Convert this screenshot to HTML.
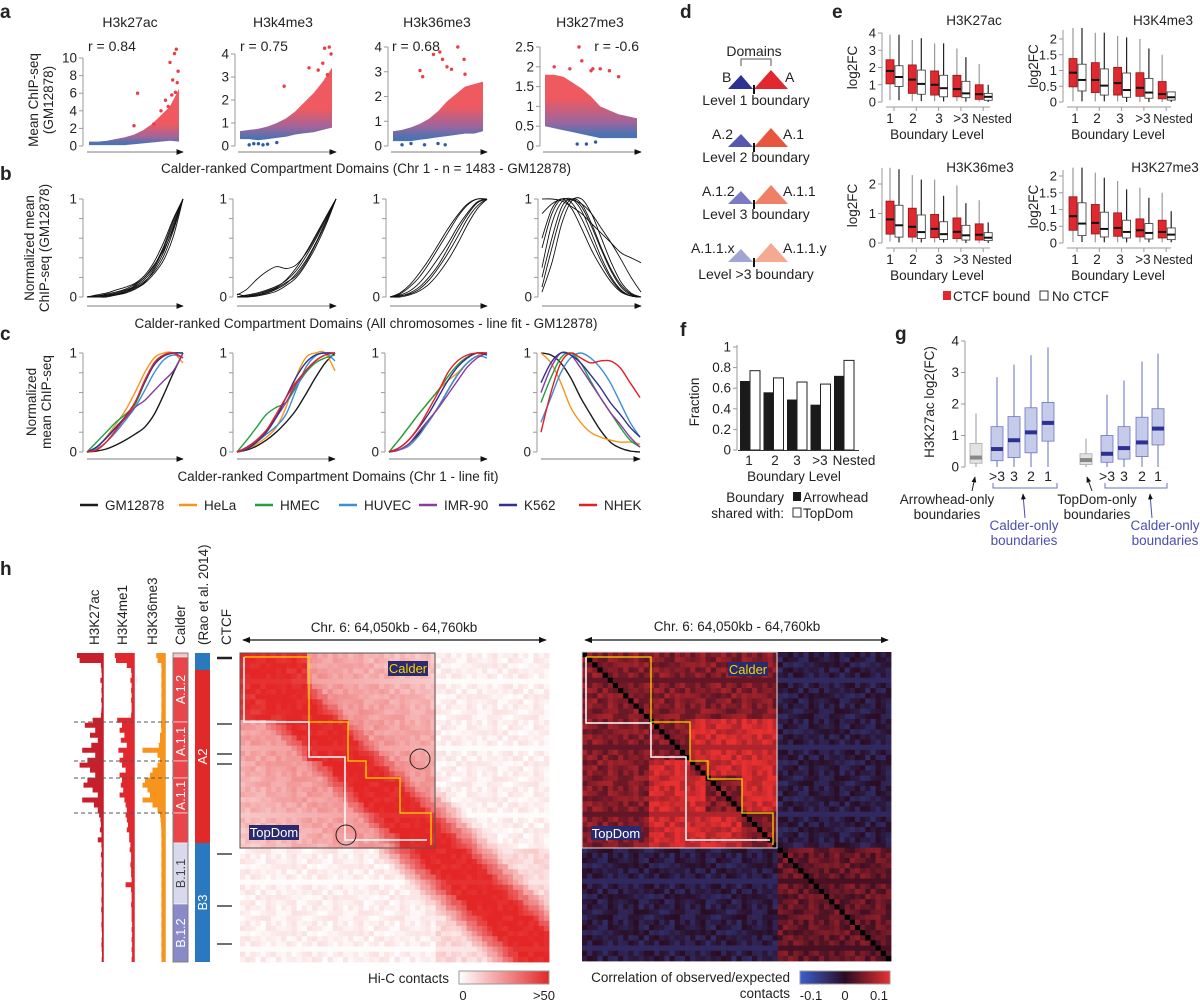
<!DOCTYPE html>
<html><head><meta charset="utf-8"><style>
html,body{margin:0;padding:0;background:#fff;}
svg{display:block;font-family:"Liberation Sans",Arial,sans-serif;}
</style></head><body>
<svg id="fig" width="1200" height="1002" viewBox="0 0 1200 1002" xmlns="http://www.w3.org/2000/svg">
<defs>
<linearGradient id="hicBar" x1="0" x2="1" y1="0" y2="0"><stop offset="0" stop-color="#ffffff"/><stop offset="1" stop-color="#e32828"/></linearGradient>
<linearGradient id="corBar" x1="0" x2="1" y1="0" y2="0"><stop offset="0" stop-color="#3b5fcf"/><stop offset="0.5" stop-color="#2a0c22"/><stop offset="1" stop-color="#e83030"/></linearGradient>
<marker id="arrEnd" viewBox="0 0 10 10" refX="9" refY="5" markerWidth="6" markerHeight="6" orient="auto"><path d="M0,1 L10,5 L0,9 z" fill="#111"/></marker>
<marker id="arrStart" viewBox="0 0 10 10" refX="1" refY="5" markerWidth="6" markerHeight="6" orient="auto"><path d="M10,1 L0,5 L10,9 z" fill="#111"/></marker>
</defs>
<g font-size="13" fill="#222">
<text x="0" y="18" font-size="19" font-weight="bold">a</text>
<text x="0" y="180" font-size="19" font-weight="bold">b</text>
<text x="0" y="340" font-size="19" font-weight="bold">c</text>
<text x="680" y="18" font-size="19" font-weight="bold">d</text>
<text x="832" y="18" font-size="19" font-weight="bold">e</text>
<text x="680" y="336" font-size="19" font-weight="bold">f</text>
<text x="895" y="340" font-size="19" font-weight="bold">g</text>
<text x="0" y="575" font-size="19" font-weight="bold">h</text>

<text x="130" y="27" font-size="14" text-anchor="middle">H3k27ac</text>
<text x="283" y="27" font-size="14" text-anchor="middle">H3k4me3</text>
<text x="437" y="27" font-size="14" text-anchor="middle">H3k36me3</text>
<text x="590" y="27" font-size="14" text-anchor="middle">H3k27me3</text>
<text x="88" y="51" font-size="14">r = 0.84</text>
<text x="240" y="51" font-size="14">r = 0.75</text>
<text x="392" y="51" font-size="14">r = 0.68</text>
<text x="639" y="51" font-size="14" text-anchor="end">r = -0.6</text>
<text transform="translate(38,100) rotate(-90)" text-anchor="middle" font-size="13.5">Mean ChIP-seq</text>
<text transform="translate(53,100) rotate(-90)" text-anchor="middle" font-size="13.5">(GM12878)</text>
<text x="366" y="173" font-size="13.5" text-anchor="middle">Calder-ranked Compartment Domains (Chr 1 - n = 1483 - GM12878)</text>
<text transform="translate(34,248) rotate(-90)" text-anchor="middle" font-size="13.5">Normalized mean</text>
<text transform="translate(49,248) rotate(-90)" text-anchor="middle" font-size="13.5">ChIP-seq (GM12878)</text>
<text x="366" y="328" font-size="13.5" text-anchor="middle">Calder-ranked Compartment Domains (All chromosomes - line fit - GM12878)</text>
<text transform="translate(36,402) rotate(-90)" text-anchor="middle" font-size="13.5">Normalized</text>
<text transform="translate(51,402) rotate(-90)" text-anchor="middle" font-size="13.5">mean ChIP-seq</text>
<text x="338" y="481" font-size="13.5" text-anchor="middle">Calder-ranked Compartment Domains (Chr 1 - line fit)</text>

<g>
<text x="754" y="56" text-anchor="middle" font-size="14">Domains</text>
<path d="M741,66 V59 H771 V66" fill="none" stroke="#555"/>
<polygon points="728,89 741,75 753,89" fill="#2e3192"/>
<polygon points="754,89 771,70 788,89" fill="#e0282e"/>
<line x1="754" y1="85" x2="754" y2="94" stroke="#111" stroke-width="2"/>
<text x="722" y="82" font-size="14">B</text>
<text x="785" y="82" font-size="14">A</text>
<text x="756" y="105" text-anchor="middle" font-size="14">Level 1 boundary</text>
<polygon points="728,147 741,134 753,147" fill="#5557b0"/>
<polygon points="754,147 771,128 788,147" fill="#e9563f"/>
<line x1="754" y1="143" x2="754" y2="152" stroke="#111" stroke-width="2"/>
<text x="712" y="139" font-size="14">A.2</text>
<text x="783" y="139" font-size="14">A.1</text>
<text x="756" y="162" text-anchor="middle" font-size="14">Level 2 boundary</text>
<polygon points="728,204 741,191 753,204" fill="#7a7bc2"/>
<polygon points="754,204 771,185 788,204" fill="#ef8068"/>
<line x1="754" y1="200" x2="754" y2="209" stroke="#111" stroke-width="2"/>
<text x="702" y="196" font-size="14">A.1.2</text>
<text x="783" y="196" font-size="14">A.1.1</text>
<text x="756" y="219" text-anchor="middle" font-size="14">Level 3 boundary</text>
<polygon points="728,262 741,249 753,262" fill="#a3a4d6"/>
<polygon points="754,262 771,243 788,262" fill="#f4a990"/>
<line x1="754" y1="258" x2="754" y2="267" stroke="#111" stroke-width="2"/>
<text x="691" y="253" font-size="14">A.1.1.x</text>
<text x="783" y="253" font-size="14">A.1.1.y</text>
<text x="756" y="279" text-anchor="middle" font-size="14">Level &gt;3 boundary</text>
</g>

<rect x="943" y="291" width="8" height="9" fill="#e0282e"/>
<text x="953" y="301" font-size="13.5">CTCF bound</text>
<rect x="1040" y="291" width="8" height="9" fill="#fff" stroke="#333"/>
<text x="1052" y="301" font-size="13.5">No CTCF</text>

<text transform="translate(699,402) rotate(-90)" text-anchor="middle" font-size="13.5">Fraction</text>
<text x="794" y="481" text-anchor="middle" font-size="13.5">Boundary Level</text>
<text x="784" y="502" text-anchor="end" font-size="13.5">Boundary</text>
<text x="784" y="518" text-anchor="end" font-size="13.5">shared with:</text>
<rect x="793" y="492" width="8" height="9" fill="#1a1a1a"/>
<text x="803" y="502" font-size="13.5">Arrowhead</text>
<rect x="793" y="508" width="8" height="9" fill="#fff" stroke="#333"/>
<text x="803" y="518" font-size="13.5">TopDom</text>

<text transform="translate(934,402) rotate(-90)" text-anchor="middle" font-size="13.5">H3K27ac log2(FC)</text>
<text x="947" y="504" text-anchor="middle" font-size="13.5">Arrowhead-only</text>
<text x="947" y="519" text-anchor="middle" font-size="13.5">boundaries</text>
<text x="1024" y="530" text-anchor="middle" font-size="13.5" fill="#4a4fb0">Calder-only</text>
<text x="1024" y="545" text-anchor="middle" font-size="13.5" fill="#4a4fb0">boundaries</text>
<text x="1097" y="504" text-anchor="middle" font-size="13.5">TopDom-only</text>
<text x="1097" y="519" text-anchor="middle" font-size="13.5">boundaries</text>
<text x="1165" y="530" text-anchor="middle" font-size="13.5" fill="#4a4fb0">Calder-only</text>
<text x="1165" y="545" text-anchor="middle" font-size="13.5" fill="#4a4fb0">boundaries</text>
<path d="M993,483 V488 H1057 V483" fill="none" stroke="#6a70c4"/>
<path d="M1105,483 V488 H1167 V483" fill="none" stroke="#6a70c4"/>
<line x1="1025" y1="518" x2="1023" y2="494" stroke="#4a4fb0" marker-end="url(#arrEnd)"/>
<line x1="1152" y1="518" x2="1150" y2="494" stroke="#4a4fb0" marker-end="url(#arrEnd)"/>
<line x1="972" y1="491" x2="975" y2="477" stroke="#222" marker-end="url(#arrEnd)"/>
<line x1="1092" y1="491" x2="1087" y2="477" stroke="#222" marker-end="url(#arrEnd)"/>

<text transform="translate(99,645) rotate(-90)" font-size="13.5">H3K27ac</text>
<text transform="translate(127,645) rotate(-90)" font-size="13.5">H3K4me1</text>
<text transform="translate(157,645) rotate(-90)" font-size="13.5">H3K36me3</text>
<text transform="translate(185,645) rotate(-90)" font-size="13.5">Calder</text>
<text transform="translate(208,645) rotate(-90)" font-size="13.5">(Rao et al. 2014)</text>
<text transform="translate(231,645) rotate(-90)" font-size="13.5">CTCF</text>
<text x="394" y="632" text-anchor="middle" font-size="13.5">Chr. 6: 64,050kb - 64,760kb</text>
<line x1="243" y1="640" x2="546" y2="640" stroke="#111" stroke-width="1.3" marker-start="url(#arrStart)" marker-end="url(#arrEnd)"/>
<text x="737" y="631" text-anchor="middle" font-size="13.5">Chr. 6: 64,050kb - 64,760kb</text>
<line x1="585" y1="640" x2="888" y2="640" stroke="#111" stroke-width="1.3" marker-start="url(#arrStart)" marker-end="url(#arrEnd)"/>

<g id="tracks"></g>
<g id="hm1"></g>
<g id="hm2"></g>

<text x="449" y="983" text-anchor="end" font-size="13.5">Hi-C contacts</text>
<rect x="459" y="971" width="90" height="13" fill="url(#hicBar)" stroke="#999"/>
<text x="463" y="1000" text-anchor="middle" font-size="13">0</text>
<text x="544" y="1000" text-anchor="middle" font-size="13">&gt;50</text>
<text x="790" y="982" text-anchor="end" font-size="13.5">Correlation of observed/expected</text>
<text x="790" y="998" text-anchor="end" font-size="13.5">contacts</text>
<rect x="800" y="971" width="90" height="13" fill="url(#corBar)" stroke="#999"/>
<text x="811" y="1000" text-anchor="middle" font-size="13">-0.1</text>
<text x="845" y="1000" text-anchor="middle" font-size="13">0</text>
<text x="879" y="1000" text-anchor="middle" font-size="13">0.1</text>
</g>
<g id="dyn" font-size="13" fill="#222"></g>
</svg>
<script>
const rankGrid = [0,0.1,0.2,0.3,0.4,0.5,0.6,0.7,0.8,0.9,1];
const a1Lower = [0.1,0.1,0.1,0.1,0.1,0.2,0.3,0.4,0.5,0.6,0.5];
const a1Upper = [0.5,0.5,0.6,0.8,1.0,1.3,1.8,2.5,3.5,4.5,6.5];
const a1OutX = [0.5,0.54,0.72,0.9,0.95,0.97,0.99,0.85,0.93,0.98,0.88,0.96,0.8,0.92];
const a1OutY = [2.3,6.0,2.5,9.5,10.5,11,8.5,5.2,7.5,7.2,4.5,6.1,4.0,5.8];
const a2Lower = [0.3,0.3,0.25,0.3,0.35,0.4,0.5,0.55,0.6,0.7,0.8];
const a2Upper = [0.65,0.7,0.75,0.85,1.0,1.2,1.5,1.9,2.3,2.8,3.4];
const a2OutX = [0.48,0.75,0.85,0.9,0.92,0.97,0.99,0.95,0.1,0.2,0.25,0.4,0.3,0.15];
const a2OutY = [2.6,3.4,3.3,3.6,4.25,4.3,4.0,3.1,0.05,0.1,0.05,0.15,0.08,0.1];
const a3Lower = [0.2,0.2,0.2,0.25,0.3,0.35,0.4,0.45,0.5,0.5,0.6];
const a3Upper = [0.6,0.65,0.75,0.9,1.1,1.4,1.8,2.1,2.4,2.5,2.6];
const a3OutX = [0.3,0.33,0.45,0.52,0.55,0.6,0.65,0.72,0.79,0.8,0.1,0.2,0.35,0.5,0.58];
const a3OutY = [3.05,2.8,3.7,3.8,3.5,3.2,3.1,4.0,3.5,2.9,0.05,0.1,0.05,0.1,0.05];
const a4Lower = [0.5,0.45,0.4,0.35,0.3,0.25,0.2,0.2,0.2,0.2,0.2];
const a4Upper = [1.8,1.8,1.75,1.6,1.45,1.25,1.0,0.9,0.8,0.75,0.7];
const a4OutX = [0.1,0.27,0.4,0.5,0.52,0.6,0.7,0.8,0.35,0.45,0.55,0.37];
const a4OutY = [2.0,1.95,2.15,1.9,1.95,1.95,1.9,1.75,0.05,0.05,0.1,2.5];
const b1Curves = [[0,0,0.01,0.03,0.06,0.1,0.16,0.26,0.42,0.68,1],[0,0.01,0.02,0.04,0.07,0.11,0.18,0.3,0.5,0.75,1],[0,0,0,0.02,0.04,0.08,0.14,0.24,0.38,0.62,1],[0,0.02,0.04,0.07,0.1,0.14,0.22,0.36,0.56,0.8,1],[0,0.01,0.02,0.03,0.05,0.09,0.15,0.28,0.46,0.72,1],[0,0,0.01,0.02,0.05,0.12,0.2,0.32,0.52,0.78,1],[0,0.01,0.03,0.05,0.08,0.13,0.2,0.33,0.48,0.7,1]];
const b2Curves = [[0.02,0.08,0.18,0.26,0.31,0.29,0.33,0.45,0.62,0.82,1],[0,0.01,0.02,0.04,0.08,0.14,0.24,0.38,0.56,0.78,1],[0,0,0.01,0.03,0.06,0.12,0.2,0.34,0.52,0.74,1],[0,0.02,0.04,0.07,0.11,0.17,0.27,0.42,0.6,0.8,1],[0.03,0.01,0.02,0.05,0.09,0.15,0.22,0.36,0.55,0.76,1],[0,0.01,0.03,0.06,0.1,0.18,0.3,0.46,0.64,0.82,1]];
const b3Curves = [[0,0.02,0.06,0.14,0.26,0.4,0.55,0.72,0.86,0.97,1],[0,0.01,0.03,0.08,0.17,0.3,0.45,0.62,0.8,0.93,1],[0,0.03,0.1,0.2,0.34,0.5,0.66,0.82,0.94,1,1],[0,0.01,0.04,0.1,0.2,0.33,0.5,0.68,0.84,0.96,1],[0,0.04,0.12,0.24,0.38,0.54,0.7,0.84,0.95,1,0.99],[0,0,0.02,0.06,0.13,0.24,0.38,0.55,0.74,0.9,1]];
const b4Curves = [[0.3,0.75,0.97,1,0.88,0.65,0.4,0.2,0.07,0.01,0],[1,1,0.98,0.92,0.85,0.75,0.65,0.55,0.45,0.4,0.35],[0.85,0.95,1,0.99,0.95,0.85,0.7,0.55,0.38,0.2,0.05],[0.1,0.5,0.85,1,0.95,0.75,0.5,0.28,0.12,0.03,0],[0.5,0.85,1,0.96,0.8,0.58,0.36,0.18,0.06,0.01,0],[0.2,0.6,0.92,1,0.92,0.72,0.48,0.26,0.1,0.02,0],[0.05,0.35,0.75,0.98,1,0.85,0.6,0.35,0.15,0.04,0],[0.6,0.9,1,0.9,0.7,0.48,0.3,0.15,0.05,0.01,0]];
const cellLines = ['GM12878','HeLa','HMEC','HUVEC','IMR-90','K562','NHEK'];
const cellColors = ['#1a1a1a','#f7941d','#1fa045','#3b8fd8','#8a3aa0','#2e3192','#e31e24'];
const c1Curves = [[0,0.01,0.03,0.07,0.12,0.18,0.25,0.38,0.58,0.8,1],[0,0.04,0.15,0.28,0.42,0.6,0.8,0.95,1,1,0.9],[0,0.1,0.2,0.3,0.38,0.48,0.7,0.9,0.98,1,1],[0,0.03,0.1,0.2,0.32,0.45,0.62,0.8,0.93,0.98,0.95],[0,0.05,0.14,0.24,0.34,0.45,0.52,0.62,0.72,0.82,1],[0,0.05,0.14,0.25,0.36,0.5,0.7,0.88,0.97,1,1],[0,0.02,0.1,0.22,0.35,0.5,0.72,0.9,0.98,1,0.95]];
const c2Curves = [[0,0.02,0.06,0.12,0.2,0.3,0.42,0.58,0.75,0.9,1],[0,0.03,0.08,0.15,0.25,0.45,0.75,0.95,1,1,0.82],[0,0.12,0.25,0.38,0.45,0.5,0.65,0.8,0.9,0.95,0.98],[0,0.03,0.1,0.18,0.26,0.38,0.62,0.85,0.97,1,0.92],[0,0.05,0.12,0.22,0.35,0.5,0.68,0.82,0.92,0.98,1],[0,0.03,0.1,0.2,0.35,0.55,0.75,0.9,0.98,1,1],[0,0.04,0.12,0.22,0.38,0.55,0.7,0.82,0.92,0.98,1]];
const c3Curves = [[0,0.02,0.08,0.18,0.3,0.45,0.62,0.78,0.9,0.97,1],[0,0.12,0.25,0.38,0.5,0.62,0.72,0.8,0.9,0.97,1],[0,0.12,0.25,0.38,0.5,0.62,0.76,0.88,0.96,1,1],[0,0.02,0.06,0.16,0.3,0.45,0.62,0.78,0.9,0.97,0.95],[0,0.02,0.08,0.2,0.32,0.44,0.58,0.72,0.86,0.95,1],[0,0.04,0.12,0.24,0.38,0.55,0.72,0.86,0.95,1,0.98],[0,0.04,0.12,0.25,0.42,0.6,0.8,0.92,0.98,1,1]];
const c4Curves = [[1,0.98,0.9,0.75,0.55,0.38,0.22,0.1,0.04,0.01,0],[1,0.9,0.7,0.45,0.3,0.2,0.15,0.12,0.1,0.1,0.08],[0.5,0.75,0.95,1,0.9,0.72,0.55,0.4,0.25,0.12,0.05],[0.3,0.55,0.8,0.95,1,0.95,0.85,0.7,0.5,0.3,0.15],[0.6,0.85,1,0.98,0.85,0.7,0.55,0.4,0.28,0.15,0.05],[0.7,0.9,1,0.98,0.9,0.78,0.65,0.5,0.38,0.25,0.15],[0.2,0.6,0.9,1,0.95,0.9,0.92,0.92,0.85,0.7,0.55]];
const levels = ['1','2','3','>3','Nested'];
const e1Red = [[1.05,1.8,2.45,0.1,3.9],[0.5,1.3,2.15,0.05,3.6],[0.4,1.0,1.8,0.05,3.4],[0.3,0.75,1.55,0.05,3.1],[0.15,0.45,1.0,0.02,2.2]];
const e1White = [[0.9,1.45,2.1,0.1,3.9],[0.45,1.05,1.85,0.05,3.7],[0.3,0.8,1.55,0.03,3.4],[0.25,0.5,1.2,0.02,2.6],[0.1,0.3,0.5,0.0,1.0]];
const e2Red = [[0.48,0.93,1.38,0.02,2.35],[0.3,0.7,1.25,0.02,2.2],[0.22,0.6,1.1,0.02,2.1],[0.18,0.45,0.93,0.0,2.0],[0.1,0.25,0.65,0.0,1.5]];
const e2White = [[0.35,0.7,1.2,0.02,2.35],[0.22,0.52,1.05,0.02,2.2],[0.15,0.38,0.92,0.0,2.05],[0.12,0.3,0.75,0.0,1.7],[0.06,0.15,0.32,0.0,0.32]];
const e3Red = [[0.3,0.8,1.42,0.05,2.55],[0.2,0.55,1.18,0.02,2.3],[0.18,0.48,0.97,0.02,2.15],[0.15,0.38,0.85,0.02,1.95],[0.1,0.28,0.65,0,1.45]];
const e3White = [[0.2,0.6,1.28,0.02,2.5],[0.15,0.37,0.95,0.02,2.15],[0.12,0.3,0.72,0.02,1.6],[0.1,0.26,0.6,0,1.35],[0.08,0.18,0.35,0,0.7]];
const e4Red = [[0.38,0.8,1.38,0.03,2.25],[0.27,0.6,1.15,0.02,2.1],[0.2,0.45,0.9,0.02,1.85],[0.18,0.38,0.72,0.02,1.65],[0.15,0.33,0.68,0.02,1.5]];
const e4White = [[0.22,0.58,1.2,0.03,2.25],[0.18,0.42,0.92,0.02,1.95],[0.15,0.33,0.68,0.02,1.6],[0.12,0.3,0.58,0.02,1.35],[0.1,0.25,0.45,0.02,0.95]];
const fArrowhead = [0.67,0.56,0.49,0.44,0.72];
const fTopDom = [0.77,0.70,0.66,0.64,0.87];
const fTicks = [0,0.2,0.4,0.6,0.8,1];
const gLabels = ['>3','3','2','1'];
const gArrowOnly = [0.12,0.3,0.75,0.0,1.7];
const gCalder1 = [[0.2,0.57,1.28,0,2.85],[0.3,0.85,1.6,0,3.25],[0.45,1.1,1.88,0,3.55],[0.82,1.4,2.05,0,3.8]];
const gTopOnly = [0.08,0.22,0.42,0,0.9];
const gCalder2 = [[0.15,0.42,1.0,0,2.3],[0.25,0.6,1.28,0,2.75],[0.33,0.78,1.58,0,3.35],[0.7,1.22,1.85,0,3.6]];
const trH3K27ac = [1,0.9,0.08,0.06,0.05,0.1,0.05,0.06,0.05,0.07,0.05,0.06,0.08,0.4,0.7,0.3,0.5,0.2,0.45,0.8,0.3,0.6,0.9,0.5,0.3,0.6,0.75,0.4,0.2,0.8,0.35,0.2,0.15,0.1,0.08,0.12,0.06,0.2,0.06,0.05,0.08,0.05,0.06,0.05,0.07,0.05,0.06,0.05,0.05,0.06,0.05,0.07,0.05,0.05,0.06,0.05,0.04,0.05,0.06,0.05,0.04,0.05];
const trH3K4me1 = [0.8,0.75,0.3,0.12,0.1,0.15,0.1,0.12,0.1,0.12,0.1,0.1,0.12,0.7,0.5,0.6,0.4,0.55,0.3,0.65,0.45,0.6,0.5,0.35,0.6,0.5,0.55,0.45,0.6,0.4,0.35,0.3,0.35,0.3,0.25,0.3,0.2,0.2,0.15,0.18,0.12,0.12,0.15,0.12,0.12,0.1,0.35,0.12,0.1,0.1,0.12,0.1,0.1,0.1,0.08,0.1,0.08,0.1,0.08,0.1,0.08,0.1];
const trH3K36me3 = [0.35,0.3,0.15,0.14,0.15,0.14,0.15,0.14,0.15,0.14,0.15,0.14,0.15,0.15,0.16,0.15,0.2,0.2,0.25,0.9,0.3,0.2,0.3,0.5,0.6,0.8,0.9,0.7,0.6,0.9,0.5,0.3,0.2,0.18,0.16,0.15,0.15,0.14,0.15,0.14,0.15,0.14,0.15,0.14,0.15,0.14,0.15,0.14,0.15,0.14,0.15,0.14,0.15,0.14,0.15,0.14,0.15,0.14,0.15,0.14,0.15,0.14];
const calderSegStart = [653,657,722,761,778,813,843,904];
const calderSegEnd   = [657,722,761,778,813,843,904,962];
const calderSegLabel = ['','A.1.2','A.1.1','','A.1.1','','B.1.1','B.1.2'];
const calderSegColor = ['#f4c6c6','#e8464a','#e8464a','#e8464a','#e8464a','#e8464a','#d9d9ee','#8a8ac8'];
const raoSegStart = [653,670,843], raoSegEnd = [670,843,962];
const raoSegLabel = ['','A2','B3'], raoSegColor = ['#2a78bd','#e02a2a','#2a78bd'];
const ctcfSites = [658,724,754,764,854,906,944];
const hmBins = 60;
const domainEdges = [0,13,21,24,31,38,49,60];
const domainComp = ['A','A','A','A','A','B','B'];
const corrAA = 0.045, corrAAcore = 0.085, corrBB = 0.03, corrAB = -0.02;
const texture = [0,0.06,-0.04,0.03,-0.06,0.05,-0.02,0.04,-0.05,0.02,0.07,-0.03,0.01];

const NS='http://www.w3.org/2000/svg';
const dyn=document.getElementById('dyn');
function mk(parent,tag,attrs,name){
  const el=document.createElementNS(NS,tag);
  for(const k in attrs) el.setAttribute(k,attrs[k]);
  
  
  parent.appendChild(el);
  return el;
}
function txt(parent,x,y,s,name,extra){const el=mk(parent,'text',Object.assign({x:x,y:y},extra||{}),name);el.textContent=s;return el;}
function lin(d0,d1,r0,r1){return v=>r0+(v-d0)*(r1-r0)/(d1-d0);}
function tex(i,j){return texture[((i*i*7+j*j*13+i*j*5+i*3+j)%texture.length+texture.length)%texture.length];}
function smooth(pts){
  let d='M'+pts[0][0].toFixed(1)+','+pts[0][1].toFixed(1);
  for(let i=0;i<pts.length-1;i++){
    const p0=pts[Math.max(0,i-1)],p1=pts[i],p2=pts[i+1],p3=pts[Math.min(pts.length-1,i+2)];
    const c1=[p1[0]+(p2[0]-p0[0])/6,p1[1]+(p2[1]-p0[1])/6],c2=[p2[0]-(p3[0]-p1[0])/6,p2[1]-(p3[1]-p1[1])/6];
    d+=' C'+c1.map(v=>v.toFixed(1)).join(',')+' '+c2.map(v=>v.toFixed(1)).join(',')+' '+p2[0].toFixed(1)+','+p2[1].toFixed(1);
  }
  return d;
}
function yAxis(g,ax,ytop,ybot,ticks,yf,labels,name,fs){
  mk(g,'line',{x1:ax,y1:ytop,x2:ax,y2:ybot,stroke:'#999','stroke-width':1},name+'-line');
  ticks.forEach((t,i)=>{const y=yf(t);
    mk(g,'line',{x1:ax-4,y1:y,x2:ax,y2:y,stroke:'#999'},name+'-tick');
    if(labels&&labels[i]!=='') txt(g,ax-6,y+4.5,labels[i],name+'-tick-label',{'text-anchor':'end','font-size':fs||13.5});
  });
}
function xArrow(g,x0,x1,y,name){mk(g,'line',{x1:x0,y1:y,x2:x1,y2:y,stroke:'#999','stroke-width':1.2,'marker-end':'url(#arrEnd)'},name);}

const aPlots=[
 {ax:83,x0:87,x1:183,max:10,ytop:58,ticks:[0,2,4,6,8,10],lo:a1Lower,hi:a1Upper,ox:a1OutX,oy:a1OutY,blue:0.3,mid:1.0,red:2.5,top:58},
 {ax:235,x0:238,x1:336,max:4,ytop:54,ticks:[0,1,2,3,4],lo:a2Lower,hi:a2Upper,ox:a2OutX,oy:a2OutY,blue:0.35,mid:0.8,red:1.6,top:54},
 {ax:388,x0:391,x1:487,max:4,ytop:47,ticks:[0,1,2,3,4],lo:a3Lower,hi:a3Upper,ox:a3OutX,oy:a3OutY,blue:0.35,mid:0.8,red:1.6,top:47},
 {ax:540,x0:543,x1:641,max:2.5,ytop:47,ticks:[0,0.5,1,1.5,2,2.5],lo:a4Lower,hi:a4Upper,ox:a4OutX,oy:a4OutY,blue:0.3,mid:0.6,red:1.2,top:47}];
const defs=document.querySelector('defs');
aPlots.forEach((p,k)=>{
  const g=mk(dyn,'g',{},'scatter-plot-'+(k+1));
  const yf=lin(0,p.max,146,p.ytop), xf=lin(0,1,p.x0+2,p.x1-4);
  const gr=mk(defs,'linearGradient',{id:'ag'+k,gradientUnits:'userSpaceOnUse',x1:0,x2:0,y1:yf(0),y2:yf(p.red)},'scatter-gradient');
  const f=v=>(v/p.red).toFixed(3);
  mk(gr,'stop',{offset:f(p.blue),'stop-color':'#2d5aa3'},'grad-stop');
  mk(gr,'stop',{offset:f(p.mid),'stop-color':'#8c4a8c'},'grad-stop');
  mk(gr,'stop',{offset:1,'stop-color':'#ec3d44'},'grad-stop');
  yAxis(g,p.ax,p.top,146,p.ticks,yf,p.ticks.map(String),'a-y-axis');
  const up=rankGrid.map((r,i)=>[xf(r),yf(p.hi[i])]);
  const dn=rankGrid.map((r,i)=>[xf(r),yf(p.lo[i])]).reverse();
  mk(g,'polygon',{points:up.concat(dn).map(q=>q[0].toFixed(1)+','+q[1].toFixed(1)).join(' '),fill:'url(#ag'+k+')',opacity:0.85},'scatter-density-band');
  p.ox.forEach((x,i)=>{mk(g,'circle',{cx:xf(x),cy:yf(p.oy[i]),r:1.7,fill:'url(#ag'+k+')'},'scatter-point');});
  xArrow(g,p.x0,p.x1,152,'a-x-axis-arrow');
});

const bPlots=[{ax:83,x0:87,x1:183,c:b1Curves},{ax:233,x0:237,x1:336,c:b2Curves},{ax:386,x0:390,x1:487,c:b3Curves},{ax:538,x0:542,x1:641,c:b4Curves}];
const cPlots=[{ax:83,x0:87,x1:183,c:c1Curves},{ax:233,x0:237,x1:335,c:c2Curves},{ax:385,x0:389,x1:487,c:c3Curves},{ax:537,x0:541,x1:640,c:c4Curves}];
function linePanel(list,y0,y1,arrowY,colored,prefix){
  list.forEach((p,k)=>{
    const g=mk(dyn,'g',{},prefix+'-plot-'+(k+1));
    const yf=lin(0,1,y0,y1), xf=lin(0,1,p.x0,p.x1);
    yAxis(g,p.ax,y1,y0,[0,0.2,0.4,0.6,0.8,1],yf,['0','','','','','1'],prefix+'-y-axis');
    p.c.forEach((cv,i)=>{
      const pts=rankGrid.map((r,j)=>[xf(r),yf(cv[j])]);
      mk(g,'path',{d:smooth(pts),fill:'none',stroke:colored?cellColors[i]:'#111','stroke-width':colored?1.4:0.9},prefix+'-curve');
    });
    xArrow(g,p.x0,p.x1,arrowY,prefix+'-x-axis-arrow');
  });
}
linePanel(bPlots,297,199,306,false,'b');
linePanel(cPlots,452,353,459,true,'c');
const legX=[80,179,255,339,419,499,579];
cellLines.forEach((n,i)=>{
  const g=mk(dyn,'g',{},'legend-entry-'+n.toLowerCase());
  mk(g,'line',{x1:legX[i],y1:505,x2:legX[i]+18,y2:505,stroke:cellColors[i],'stroke-width':2.5},'legend-line');
  txt(g,legX[i]+25,510,n,'legend-label',{'font-size':13.5});
});

const ePlots=[
 {ax:882,y0:102,ppu:17.25,ticks:[0,1,2,3,4],lab:['0','1','2','3','4'],top:33,rx:890,lx:[890,913,939,961,992],red:e1Red,white:e1White,title:'H3K27ac',tx:974,ty:25,ly:123,bly:139},
 {ax:1063,y0:102,ppu:31.5,ticks:[0,0.5,1,1.5,2],lab:['0','0.5','1','1.5','2'],top:30,rx:1073,lx:[1075,1097,1120,1143,1173],red:e2Red,white:e2White,title:'H3K4me3',tx:1163,ty:25,ly:123,bly:139},
 {ax:882,y0:243,ppu:29.5,ticks:[0,1,2],lab:['0','1','2'],top:168,rx:890,lx:[890,913,939,961,992],red:e3Red,white:e3White,title:'H3K36me3',tx:980,ty:172,ly:264,bly:280},
 {ax:1063,y0:243,ppu:33.5,ticks:[0,0.5,1,1.5,2],lab:['0','0.5','1','1.5','2'],top:170,rx:1073,lx:[1075,1097,1120,1143,1173],red:e4Red,white:e4White,title:'H3K27me3',tx:1165,ty:172,ly:264,bly:280}];
function box(g,cx,w,b,yf,fill,stroke,wstroke,mstroke,mw,name){
  mk(g,'line',{x1:cx,y1:yf(b[4]),x2:cx,y2:yf(b[3]),stroke:wstroke,'stroke-width':1.2},name+'-whisker');
  mk(g,'rect',{x:cx-w/2,y:yf(b[2]),width:w,height:Math.max(1,yf(b[0])-yf(b[2])),fill:fill,stroke:stroke,'stroke-width':0.8},name+'-box');
  mk(g,'line',{x1:cx-w/2,y1:yf(b[1]),x2:cx+w/2,y2:yf(b[1]),stroke:mstroke,'stroke-width':mw},name+'-median');
}
ePlots.forEach((p,k)=>{
  const g=mk(dyn,'g',{},'boxplot-panel-'+p.title.toLowerCase());
  const yf=v=>p.y0-v*p.ppu;
  yAxis(g,p.ax,p.top,p.y0,p.ticks,yf,p.lab,'e-y-axis',13);
  txt(g,p.tx,p.ty,p.title,'e-title',{'text-anchor':'middle','font-size':13.5});
  mk(g,'line',{x1:p.ax+4,y1:p.y0+5,x2:p.ax+108,y2:p.y0+5,stroke:'#999'},'e-x-axis');
  levels.forEach((L,i)=>{
    const cx=p.rx+i*22.3;
    mk(g,'line',{x1:cx+4,y1:p.y0+5,x2:cx+4,y2:p.y0+9,stroke:'#999'},'e-x-tick');
    box(g,cx,8,p.red[i],yf,'#e0282e','#8a1a1a','#999','#111',2,'ctcf-bound-level-'+L);
    box(g,cx+9,8,p.white[i],yf,'#fff','#333','#222','#111',2,'no-ctcf-level-'+L);
    txt(g,p.lx[i],p.ly,L,'e-x-tick-label',{'text-anchor':'middle','font-size':i===4?12.5:13.5});
  });
  txt(g,p.ax+55,p.bly,'Boundary Level','e-x-axis-title',{'text-anchor':'middle','font-size':13.5});
  const ylx=p.ax-25, yly=(p.top+p.y0)/2;
  txt(g,0,0,'log2FC','e-y-axis-title',{'text-anchor':'middle','font-size':13.5,transform:'translate('+ylx+','+yly+') rotate(-90)'});
});

(function(){
  const g=mk(dyn,'g',{},'bar-chart-f');
  const yf=lin(0,1,450,347);
  yAxis(g,737,345,450,fTicks,yf,['0','0.2','0.4','0.6','0.8','1'],'f-y-axis');
  const lx=[749,775,797,820,854];
  levels.forEach((L,i)=>{
    const x=740+i*23.5;
    mk(g,'rect',{x:x,y:yf(fArrowhead[i]),width:10,height:450-yf(fArrowhead[i]),fill:'#1a1a1a'},'bar-arrowhead-'+L);
    mk(g,'rect',{x:x+10,y:yf(fTopDom[i]),width:10,height:450-yf(fTopDom[i]),fill:'#fff',stroke:'#222'},'bar-topdom-'+L);
    txt(g,lx[i],465,L,'f-x-tick-label',{'text-anchor':'middle','font-size':13.5});
  });
  mk(g,'line',{x1:738,y1:450.5,x2:859,y2:450.5,stroke:'#333'},'f-x-axis');
})();

(function(){
  const g=mk(dyn,'g',{},'boxplot-g');
  const yf=lin(0,4,467,341);
  yAxis(g,965,341,467,[0,1,2,3,4],yf,['0','1','2','3','4'],'g-y-axis');
  box(g,976,12,gArrowOnly,yf,'#e2e2e2','#aaa','#aaa','#888',4,'arrowhead-only-box');
  const c1=[997,1014,1031,1048];
  gCalder1.forEach((b,i)=>{box(g,c1[i],12,b,yf,'#c7cbea','#6b74c4','#7f87cc','#2e3192',4,'calder-only-level-'+gLabels[i]);
    txt(g,c1[i],481,gLabels[i],'g-x-tick-label',{'text-anchor':'middle','font-size':14});});
  box(g,1086,12,gTopOnly,yf,'#e2e2e2','#aaa','#aaa','#888',4,'topdom-only-box');
  const c2=[1107,1124,1142,1158];
  gCalder2.forEach((b,i)=>{box(g,c2[i],12,b,yf,'#c7cbea','#6b74c4','#7f87cc','#2e3192',4,'calder-only-b-level-'+gLabels[i]);
    txt(g,c2[i],481,gLabels[i],'g-x-tick-label',{'text-anchor':'middle','font-size':14});});
})();

(function(){
  const g=document.getElementById('tracks');
  const yT=653,yB=962;
  function track(vals,base,w,color,name){
    const n=vals.length, h=(yB-yT)/n; let pts=[[base,yT]];
    vals.forEach((v,i)=>{const x=base-v*w; pts.push([x,yT+i*h]); pts.push([x,yT+(i+1)*h]);});
    pts.push([base,yB]);
    mk(g,'polygon',{points:pts.map(q=>q[0].toFixed(1)+','+q[1].toFixed(1)).join(' '),fill:color},name);
    mk(g,'line',{x1:base,y1:yT,x2:base,y2:yB,stroke:color,'stroke-width':1.5},name+'-baseline');
  }
  track(trH3K27ac,103,26,'#c81f2c','track-h3k27ac');
  track(trH3K4me1,134,24,'#e0282e','track-h3k4me1');
  track(trH3K36me3,165,25,'#f7941d','track-h3k36me3');
  [722,761,778,813].forEach(y=>mk(g,'line',{x1:74,y1:y,x2:173,y2:y,stroke:'#555','stroke-dasharray':'4,3'},'boundary-dashed-line'));
  calderSegStart.forEach((s,i)=>{
    mk(g,'rect',{x:173,y:s,width:15,height:calderSegEnd[i]-s,fill:calderSegColor[i],stroke:'#fff','stroke-width':0.6},'calder-segment');
    if(calderSegLabel[i]) txt(g,0,0,calderSegLabel[i],'calder-segment-label',{'text-anchor':'middle','font-size':12.5,fill:calderSegLabel[i]==='B.1.1'?'#444':'#fff',transform:'translate(185,'+((s+calderSegEnd[i])/2)+') rotate(-90)'});
  });
  mk(g,'rect',{x:173,y:653,width:15,height:309,fill:'none',stroke:'#666','stroke-width':0.8},'calder-track-border');
  raoSegStart.forEach((s,i)=>{
    mk(g,'rect',{x:195,y:s,width:15,height:raoSegEnd[i]-s,fill:raoSegColor[i]},'rao-segment');
    if(raoSegLabel[i]) txt(g,0,0,raoSegLabel[i],'rao-segment-label',{'text-anchor':'middle','font-size':13,fill:'#fff',transform:'translate(207,'+((s+raoSegEnd[i])/2)+') rotate(-90)'});
  });
  ctcfSites.forEach((y,i)=>mk(g,'line',{x1:217,y1:y,x2:232,y2:y,stroke:'#222','stroke-width':i===0?2.5:1.3},'ctcf-site'));
})();

function domainOf(b){for(let d=0;d<domainEdges.length-1;d++){if(b>=domainEdges[d]&&b<domainEdges[d+1])return d;}return domainEdges.length-2;}
function drawHeat(gid,x0,y0,size,colorFn,name){
  const g=document.getElementById(gid), cs=size/hmBins;
  for(let i=0;i<hmBins;i++)for(let j=0;j<hmBins;j++){
    mk(g,'rect',{x:(x0+j*cs).toFixed(2),y:(y0+i*cs).toFixed(2),width:(cs+0.4).toFixed(2),height:(cs+0.4).toFixed(2),fill:colorFn(i,j)},name);
  }
}
function mix(a,b,t){t=Math.max(0,Math.min(1,t));return 'rgb('+a.map((v,k)=>Math.round(v+(b[k]-v)*t)).join(',')+')';}
drawHeat('hm1',240,653,309,(i,j)=>{
  const d=Math.abs(i-j), di=domainOf(i), dj=domainOf(j), ci=domainComp[di], cj=domainComp[dj];
  let band=Math.max(0,Math.min(1,1.25-0.11*Math.max(0,d-2)));
  let blk;
  if(ci==='A'&&cj==='A') blk=(di===dj)?0.95:(0.55-0.008*d);
  else if(ci==='B'&&cj==='B') blk=(di===dj)?0.25:0.17;
  else blk=0.07;
  const v=Math.max(band,blk)+tex(i,j);
  return mix([255,255,255],[228,38,38],v);
},'hic-cell');
drawHeat('hm2',582,652,309,(i,j)=>{
  if(i===j) return '#000';
  const di=domainOf(i), dj=domainOf(j), ci=domainComp[di], cj=domainComp[dj];
  let c;
  if(ci==='A'&&cj==='A') c=(di>=1&&dj>=1&&di<=4&&dj<=4&&di!==dj)?corrAAcore:corrAA;
  else if(ci==='B'&&cj==='B') c=corrBB;
  else c=corrAB;
  c+=tex(i,j)*0.3;
  return c>=0?mix([42,12,34],[232,48,48],c/0.1):mix([42,12,34],[59,95,207],-c/0.1);
},'corr-cell');

(function(){
  const g=mk(dyn,'g',{},'heatmap-overlays');
  mk(g,'rect',{x:240,y:653,width:195,height:195,fill:'none',stroke:'#555','stroke-width':1},'a-compartment-box-1');
  mk(g,'polyline',{points:'244,657 244,722 309,722 309,757 345,757 345,840 427,840',fill:'none',stroke:'#fff','stroke-width':1.5},'topdom-boundaries-1');
  mk(g,'polyline',{points:'244,657 309,657 309,722 348,722 348,761 366,761 366,778 400,778 400,813 431,813 431,845',fill:'none',stroke:'#f5d400','stroke-width':1.3},'calder-boundaries-1');
  mk(g,'circle',{cx:420,cy:759,r:10,fill:'none',stroke:'#222'},'highlight-circle-1');
  mk(g,'circle',{cx:346,cy:835,r:10,fill:'none',stroke:'#222'},'highlight-circle-2');
  mk(g,'rect',{x:388,y:661,width:40,height:15,fill:'#2b2a6e'},'calder-tag-bg-1');
  txt(g,408,673,'Calder','calder-tag-1',{'text-anchor':'middle',fill:'#f5d400','font-size':13});
  mk(g,'rect',{x:249,y:825,width:50,height:15,fill:'#2b2a6e'},'topdom-tag-bg-1');
  txt(g,274,837,'TopDom','topdom-tag-1',{'text-anchor':'middle',fill:'#fff','font-size':13});
  mk(g,'rect',{x:582,y:652,width:195,height:196,fill:'none',stroke:'#ddd','stroke-width':1},'a-compartment-box-2');
  mk(g,'polyline',{points:'586,657 586,723 651,723 651,757 686,757 686,840 770,840',fill:'none',stroke:'#fff','stroke-width':1.5},'topdom-boundaries-2');
  mk(g,'polyline',{points:'586,657 651,657 651,722 690,722 690,761 708,761 708,779 742,779 742,813 773,813 773,845',fill:'none',stroke:'#f5d400','stroke-width':1.3},'calder-boundaries-2');
  mk(g,'rect',{x:728,y:662,width:40,height:14,fill:'#2b2a6e'},'calder-tag-bg-2');
  txt(g,748,674,'Calder','calder-tag-2',{'text-anchor':'middle',fill:'#f5d400','font-size':13});
  mk(g,'rect',{x:591,y:826,width:50,height:14,fill:'#2b2a6e'},'topdom-tag-bg-2');
  txt(g,616,838,'TopDom','topdom-tag-2',{'text-anchor':'middle',fill:'#fff','font-size':13});
})();
</script>
</body></html>
